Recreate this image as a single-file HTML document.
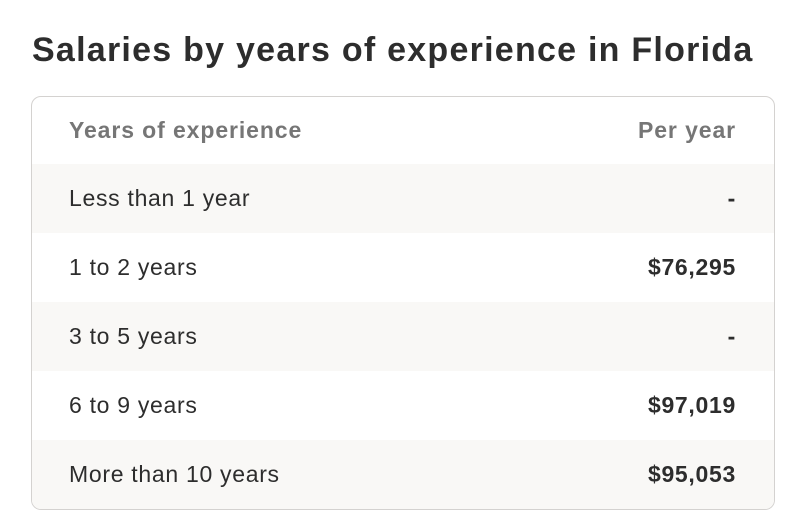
<!DOCTYPE html>
<html><head><meta charset="utf-8">
<style>
html,body{margin:0;padding:0;background:#fff;width:806px;height:532px;overflow:hidden;font-family:"Liberation Sans",sans-serif;color:#2d2d2d}
h1{position:absolute;left:32px;top:26px;margin:0;font-size:34px;font-weight:bold;line-height:48px;letter-spacing:1.25px;color:#2d2d2d;white-space:nowrap}
.card{position:absolute;left:31px;top:96px;width:744px;height:414px;border:1px solid #d4d2d0;border-radius:10px;overflow:hidden;box-sizing:border-box}
.row{position:absolute;left:0;right:0;height:69px;display:flex;align-items:center;justify-content:space-between;padding:0 38px 0 37px;font-size:23px;letter-spacing:0.7px}
.hdr{top:0;height:67px;color:#767676;font-weight:bold;letter-spacing:0.9px}
.s{background:#f9f8f6}
.v{font-weight:bold;margin-right:0}
</style></head><body>
<h1>Salaries by years of experience in Florida</h1>
<div class="card">
<div class="row hdr"><span>Years of experience</span><span>Per year</span></div>
<div class="row s" style="top:67px"><span>Less than 1 year</span><span class="v">-</span></div>
<div class="row" style="top:136px"><span>1 to 2 years</span><span class="v">$76,295</span></div>
<div class="row s" style="top:205px"><span>3 to 5 years</span><span class="v">-</span></div>
<div class="row" style="top:274px"><span>6 to 9 years</span><span class="v">$97,019</span></div>
<div class="row s" style="top:343px"><span>More than 10 years</span><span class="v">$95,053</span></div>
</div>
</body></html>
